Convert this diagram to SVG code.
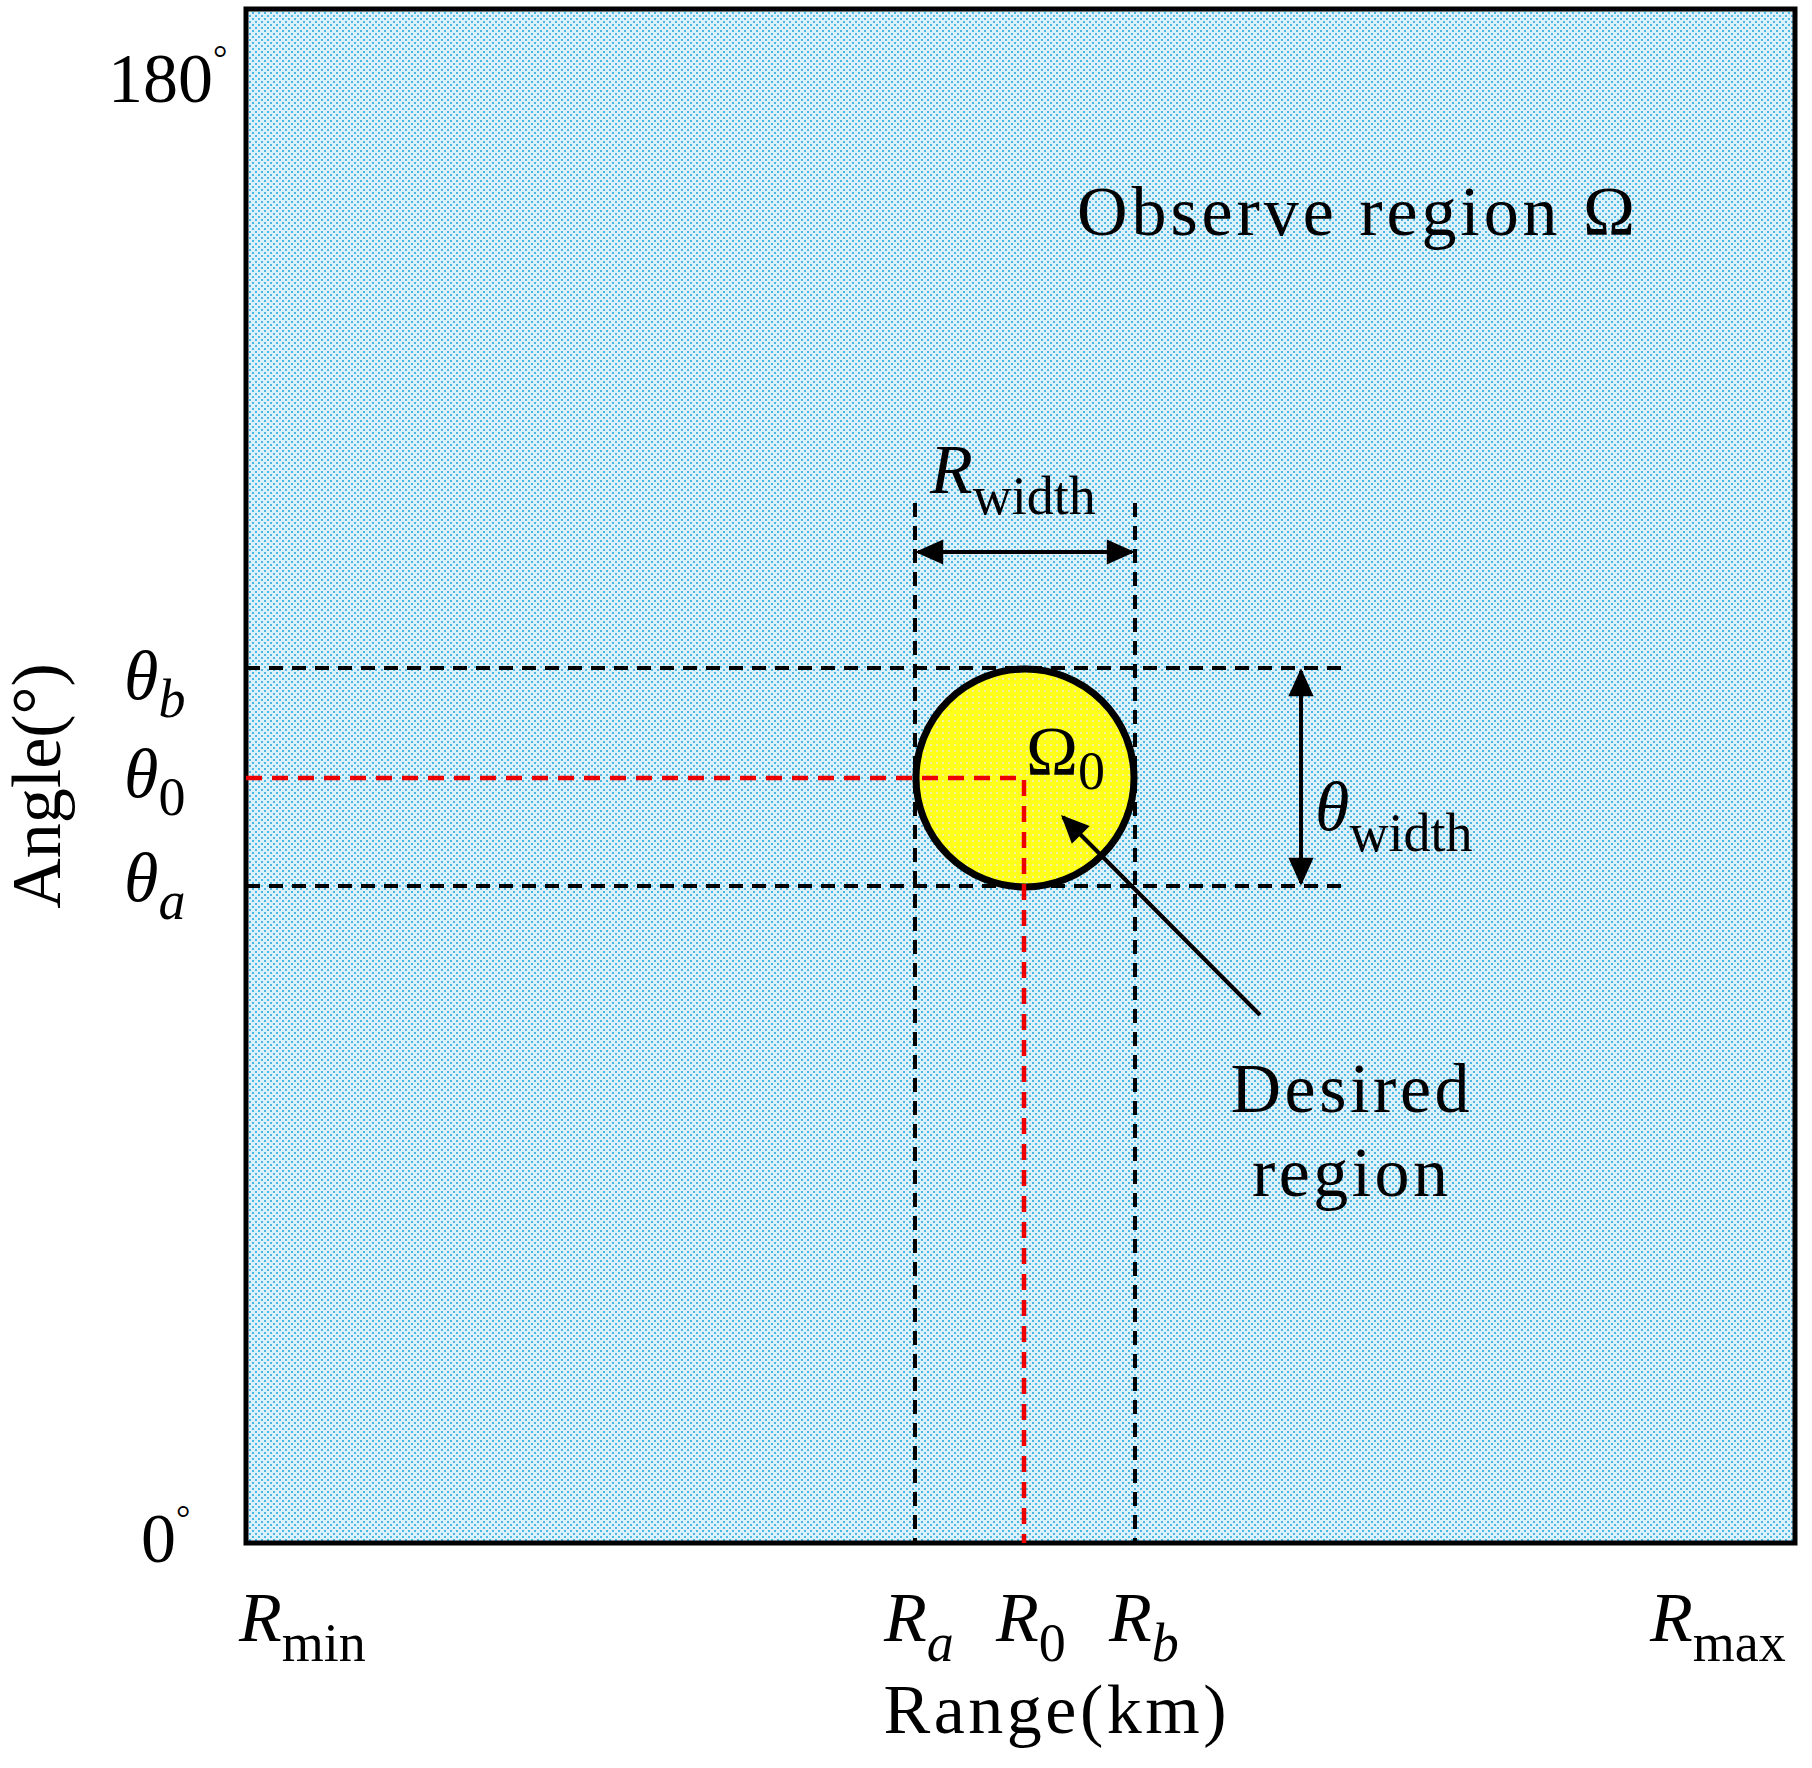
<svg xmlns="http://www.w3.org/2000/svg" width="1812" height="1768" viewBox="0 0 1812 1768">
<defs>
<pattern id="dots" width="6" height="6" patternUnits="userSpaceOnUse"><rect width="6" height="6" fill="#dcf1fa"/><rect x="0" y="0" width="2" height="2" fill="#4cb8e6"/><rect x="3" y="3" width="2" height="2" fill="#4cb8e6"/></pattern>
<pattern id="ydots" width="6" height="6" patternUnits="userSpaceOnUse"><rect width="6" height="6" fill="#ffff1a"/><rect x="0" y="0" width="2" height="2" fill="#f2f2a0"/></pattern>
<marker id="ah" viewBox="0 0 10 10" refX="9" refY="5" markerWidth="8" markerHeight="7" orient="auto-start-reverse" markerUnits="strokeWidth"><path d="M0,0.5 L10,5 L0,9.5 z" fill="#000"/></marker>
</defs>
<style>
text{font-family:"Liberation Serif","DejaVu Serif",serif;fill:#000}
.t{font-size:70px}.it{font-style:italic}.sub{font-size:54px}
.dk{stroke:#000;stroke-width:4;stroke-dasharray:14,9;fill:none}
.dr{stroke:#e00;stroke-width:4.5;stroke-dasharray:16,10;fill:none}
</style>
<rect width="1812" height="1768" fill="#fff"/>
<g id="region"><rect x="246" y="9" width="1549" height="1534" fill="url(#dots)" stroke="#000" stroke-width="5"/></g>
<g id="desired"><circle cx="1025" cy="778" r="109" fill="url(#ydots)" stroke="#000" stroke-width="7"/></g>
<g id="connectors">
<line class="dk" x1="915" y1="503" x2="915" y2="1543"/>
<line class="dk" x1="1135" y1="503" x2="1135" y2="1543"/>
<line class="dk" x1="246" y1="668" x2="1350" y2="668"/>
<line class="dk" x1="246" y1="886" x2="1350" y2="886"/>
<polyline class="dr" points="246,778 1024,778 1024,1543"/>
<line x1="918" y1="552" x2="1132" y2="552" stroke="#000" stroke-width="4" marker-start="url(#ah)" marker-end="url(#ah)"/>
<line x1="1301" y1="671" x2="1301" y2="883" stroke="#000" stroke-width="4" marker-start="url(#ah)" marker-end="url(#ah)"/>
<line x1="1260" y1="1015" x2="1063" y2="817" stroke="#000" stroke-width="4" marker-end="url(#ah)"/>
</g>
<g id="labels">
<text class="t" x="108" y="102">180<tspan font-size="36" dy="-32">°</tspan></text>
<text class="t" x="141" y="1562">0<tspan font-size="36" dy="-32">°</tspan></text>
<text class="t" x="1077" y="235" textLength="558">Observe region Ω</text>
<text class="t" x="1026" y="775">Ω<tspan class="sub" dy="14">0</tspan></text>
<text class="t" x="930" y="493"><tspan class="it">R</tspan><tspan class="sub" dy="21">width</tspan></text>
<text class="t" x="1315" y="830"><tspan class="it">θ</tspan><tspan class="sub" dy="21">width</tspan></text>
<text class="t" x="124" y="699"><tspan class="it">θ</tspan><tspan class="sub it" dy="18">b</tspan></text>
<text class="t" x="124" y="797"><tspan class="it">θ</tspan><tspan class="sub" dy="18">0</tspan></text>
<text class="t" x="124" y="901"><tspan class="it">θ</tspan><tspan class="sub it" dy="18">a</tspan></text>
<text class="t" transform="translate(60,786) rotate(-90)" text-anchor="middle">Angle(°)</text>
<text class="t" x="1350" y="1112" text-anchor="middle" textLength="239">Desired</text>
<text class="t" x="1350" y="1196" text-anchor="middle" textLength="196">region</text>
<text class="t" x="239" y="1641"><tspan class="it">R</tspan><tspan class="sub" dy="20">min</tspan></text>
<text class="t" x="884" y="1641"><tspan class="it">R</tspan><tspan class="sub it" dy="20">a</tspan></text>
<text class="t" x="996" y="1641"><tspan class="it">R</tspan><tspan class="sub" dy="20">0</tspan></text>
<text class="t" x="1109" y="1641"><tspan class="it">R</tspan><tspan class="sub it" dy="20">b</tspan></text>
<text class="t" x="1650" y="1641"><tspan class="it">R</tspan><tspan class="sub" dy="20">max</tspan></text>
<text class="t" x="1055" y="1733" text-anchor="middle" textLength="343">Range(km)</text>
</g>
</svg>
